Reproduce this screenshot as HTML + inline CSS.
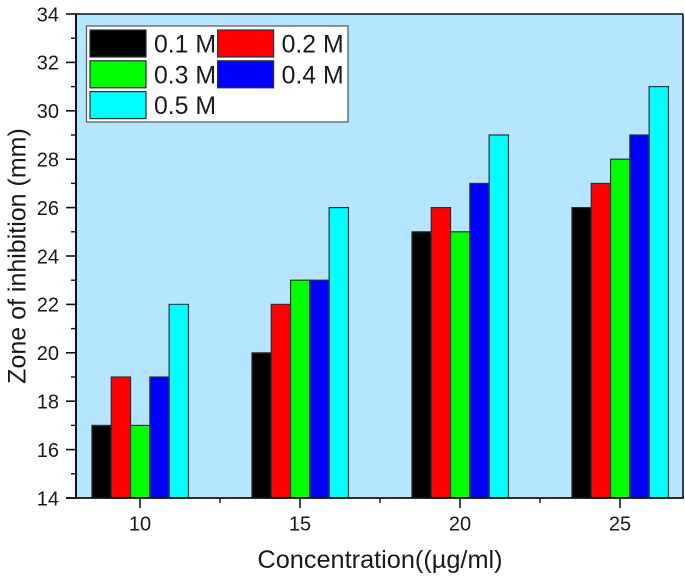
<!DOCTYPE html>
<html>
<head>
<meta charset="utf-8">
<style>
html,body{margin:0;padding:0;background:#fff;width:685px;height:576px;overflow:hidden}
svg{display:block;font-family:"Liberation Sans",sans-serif;fill:#1a1a1a}
</style>
</head>
<body>
<svg id="chart" xmlns="http://www.w3.org/2000/svg" width="685" height="576" viewBox="0 0 685 576">
  <rect x="76" y="14" width="607" height="484" fill="#b5e6fd"></rect>
  <g id="bars"></g>
  <g id="axes"></g>
  <text x="380" y="568" font-size="25.3" text-anchor="middle">Concentration((µg/ml)</text>
  <text transform="translate(25.5 256) rotate(-90)" font-size="25" text-anchor="middle">Zone of inhibition (mm)</text>
  <g id="legend"></g>
</svg>
<script>
const categories = [10, 15, 20, 25];
const seriesNames = ['0.1 M', '0.2 M', '0.3 M', '0.4 M', '0.5 M'];
const seriesColors = ['#000000', '#ff0000', '#00ff00', '#0000ff', '#00ffff'];
const series01 = [17, 20, 25, 26];
const series02 = [19, 22, 26, 27];
const series03 = [17, 23, 25, 28];
const series04 = [19, 23, 27, 29];
const series05 = [22, 26, 29, 31];
const yMajorTicks = [14, 16, 18, 20, 22, 24, 26, 28, 30, 32, 34];
const yMinorTicks = [15, 17, 19, 21, 23, 25, 27, 29, 31, 33];
const xMajorTicks = [10, 15, 20, 25];
const xMinorTicks = [12.5, 17.5, 22.5];

const allSeries = [series01, series02, series03, series04, series05];
const NS = 'http://www.w3.org/2000/svg';
const yScale = v => 498 - (v - 14) * 24.2;
const xScale = v => 140 + (v - 10) * 32;
const BAR_W = 19.3;

function make(parent, tag, attrs, text) {
  const el = document.createElementNS(NS, tag);
  for (const k in attrs) el.setAttribute(k, attrs[k]);
  if (text !== undefined) el.textContent = text;
  parent.appendChild(el);
  return el;
}

const barsG = document.getElementById('bars');
allSeries.forEach((vals, s) => {
  vals.forEach((v, c) => {
    const x = xScale(categories[c]) + (s - 2.5) * BAR_W + 0.2;
    const r = make(barsG, 'rect', {
      x: x, y: yScale(v), width: BAR_W, height: 498 - yScale(v),
      fill: seriesColors[s], stroke: '#263238', 'stroke-width': 1.2
    });
    
    
  });
});

const axesG = document.getElementById('axes');
const frame = make(axesG, 'path', {
  d: 'M76 14H683', fill: 'none', stroke: '#111', 'stroke-width': 1.6
});


const rightLine = make(axesG, 'path', {
  d: 'M683 14V498', fill: 'none', stroke: '#111', 'stroke-width': 1.6
});


const leftLine = make(axesG, 'path', {
  d: 'M76 13.2V498.8', fill: 'none', stroke: '#111', 'stroke-width': 2
});


const bottomLine = make(axesG, 'path', {
  d: 'M66 498H684', fill: 'none', stroke: '#111', 'stroke-width': 1.8
});



yMajorTicks.forEach(v => {
  const t = make(axesG, 'line', {
    x1: 66, x2: 76, y1: yScale(v), y2: yScale(v), stroke: '#111', 'stroke-width': 1.6
  });
  
  
  const l = make(axesG, 'text', {
    x: 59, y: yScale(v) + 7.3, 'font-size': 20, 'text-anchor': 'end'
  }, String(v));
  
  
});
yMinorTicks.forEach(v => {
  const t = make(axesG, 'line', {
    x1: 71, x2: 76, y1: yScale(v), y2: yScale(v), stroke: '#111', 'stroke-width': 1.4
  });
  
  
});
xMajorTicks.forEach(v => {
  const t = make(axesG, 'line', {
    x1: xScale(v), x2: xScale(v), y1: 498, y2: 508, stroke: '#111', 'stroke-width': 1.6
  });
  
  
  const l = make(axesG, 'text', {
    x: xScale(v), y: 530.5, 'font-size': 20, 'text-anchor': 'middle'
  }, String(v));
  
  
});
xMinorTicks.forEach(v => {
  const t = make(axesG, 'line', {
    x1: xScale(v), x2: xScale(v), y1: 498, y2: 503, stroke: '#111', 'stroke-width': 1.4
  });
  
  
});

const legendG = document.getElementById('legend');
const box = make(legendG, 'rect', {
  x: 86.5, y: 26, width: 261.5, height: 96, fill: '#fff', stroke: '#555', 'stroke-width': 1.2
});


seriesNames.forEach((name, i) => {
  const col = i % 2, row = Math.floor(i / 2);
  const sx = 90 + col * 127.6, sy = 30 + row * 30.8;
  const sw = make(legendG, 'rect', {
    x: sx, y: sy, width: 56, height: 27, fill: seriesColors[i], stroke: '#263238', 'stroke-width': 1.2
  });
  
  
  const tx = make(legendG, 'text', {
    x: sx + 64, y: sy + 22.5, 'font-size': 24.8
  }, name);
  
  
});
</script>
</body>
</html>
